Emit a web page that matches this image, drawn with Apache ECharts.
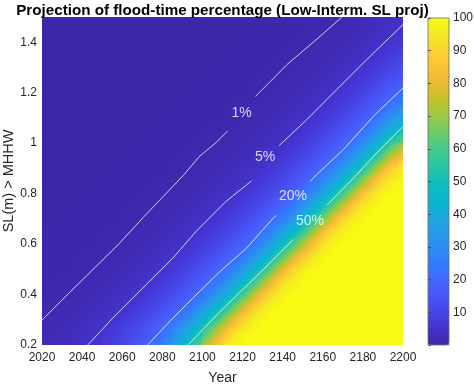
<!DOCTYPE html>
<html>
<head>
<meta charset="utf-8">
<script src="https://cdn.jsdelivr.net/npm/echarts@6/dist/echarts.min.js"></script>
<style>html,body{margin:0;padding:0;background:#fff}#c{width:474px;height:384px}</style>
</head>
<body>
<div id="c"></div>
<script>
// ---- data ----
const yearEdges = [2020,2025,2030,2035,2040,2045,2050,2055,2060,2065,2070,2075,2080,2085,2090,2095,2100,2105,2110,2115,2120,2125,2130,2135,2140,2145,2150,2155,2160,2165,2170,2175,2180,2185,2190,2195,2200];
const levelEdges = [0.2,0.25,0.3,0.35,0.4,0.45,0.5,0.55,0.6,0.65,0.7,0.75,0.8,0.85,0.9,0.95,1.0,1.05,1.1,1.15,1.2,1.25,1.3,1.35,1.4,1.45,1.5];
// flood-time percentage, one row per SL band (bottom to top), one column per 5-year band
const pct = [
[1.8,2.2,2.7,3.4,4.2,5.1,6.7,8.8,11.3,14.1,17.3,21,28,36,44,55,72,86,97,100,100,100,100,100,100,100,100,100,100,100,100,100,100,100,100,100],
[1.3,1.7,2.1,2.6,3.2,4.0,4.8,6.2,8.2,10.6,13.4,16.5,20,26,34,42,51,68,83,95,99,100,100,100,100,100,100,100,100,100,100,100,100,100,100,100],
[1.0,1.2,1.6,2.0,2.4,3.0,3.8,4.6,5.8,7.7,10,12.7,15.7,19,24,32,40,48,64,80,92,99,100,100,100,100,100,100,100,100,100,100,100,100,100,100],
[0.7,0.9,1.2,1.5,1.9,2.3,2.9,3.6,4.4,5.4,7.2,9.4,12,14.9,18,22.5,30,38,46,59,76,89,98,100,100,100,100,100,100,100,100,100,100,100,100,100],
[0.5,0.7,0.9,1.1,1.4,1.8,2.2,2.7,3.4,4.2,5.1,6.7,8.8,11.3,14.1,17.3,21,28,36,44,55,72,86,97,100,100,100,100,100,100,100,100,100,100,100,100],
[0.4,0.5,0.6,0.8,1.0,1.3,1.7,2.1,2.6,3.2,4.0,4.8,6.2,8.2,10.6,13.4,16.5,20,26,34,42,51,68,83,95,99,100,100,100,100,100,100,100,100,100,100],
[0.3,0.4,0.4,0.6,0.8,1.0,1.2,1.6,2.0,2.4,3.0,3.8,4.6,5.8,7.7,10,12.7,15.7,19,24,32,40,48,64,80,92,99,100,100,100,100,100,100,100,100,100],
[0.3,0.3,0.3,0.4,0.6,0.7,0.9,1.2,1.5,1.9,2.3,2.9,3.6,4.4,5.4,7.2,9.4,12,14.9,18,22.5,30,38,46,59,76,89,98,100,100,100,100,100,100,100,100],
[0.2,0.2,0.3,0.3,0.4,0.5,0.7,0.9,1.1,1.4,1.8,2.2,2.7,3.4,4.2,5.1,6.7,8.8,11.3,14.1,17.3,21,28,36,44,55,72,86,97,100,100,100,100,100,100,100],
[0.2,0.2,0.2,0.3,0.3,0.4,0.5,0.6,0.8,1.0,1.3,1.7,2.1,2.6,3.2,4.0,4.8,6.2,8.2,10.6,13.4,16.5,20,26,34,42,51,68,83,95,99,100,100,100,100,100],
[0.1,0.2,0.2,0.2,0.3,0.3,0.4,0.4,0.6,0.8,1.0,1.2,1.6,2.0,2.4,3.0,3.8,4.6,5.8,7.7,10,12.7,15.7,19,24,32,40,48,64,80,92,99,100,100,100,100],
[0.1,0.1,0.2,0.2,0.2,0.3,0.3,0.3,0.4,0.6,0.7,0.9,1.2,1.5,1.9,2.3,2.9,3.6,4.4,5.4,7.2,9.4,12,14.9,18,22.5,30,38,46,59,76,89,98,100,100,100],
[0.1,0.1,0.1,0.2,0.2,0.2,0.2,0.3,0.3,0.4,0.5,0.7,0.9,1.1,1.4,1.8,2.2,2.7,3.4,4.2,5.1,6.7,8.8,11.3,14.1,17.3,21,28,36,44,55,72,86,97,100,100],
[0.1,0.1,0.1,0.1,0.2,0.2,0.2,0.2,0.3,0.3,0.4,0.5,0.6,0.8,1.0,1.3,1.7,2.1,2.6,3.2,4.0,4.8,6.2,8.2,10.6,13.4,16.5,20,26,34,42,51,68,83,95,99],
[0.1,0.1,0.1,0.1,0.1,0.1,0.2,0.2,0.2,0.3,0.3,0.4,0.4,0.6,0.8,1.0,1.2,1.6,2.0,2.4,3.0,3.8,4.6,5.8,7.7,10,12.7,15.7,19,24,32,40,48,64,80,92],
[0,0.1,0.1,0.1,0.1,0.1,0.1,0.2,0.2,0.2,0.3,0.3,0.3,0.4,0.6,0.7,0.9,1.2,1.5,1.9,2.3,2.9,3.6,4.4,5.4,7.2,9.4,12,14.9,18,22.5,30,38,46,59,76],
[0,0,0,0.1,0.1,0.1,0.1,0.1,0.2,0.2,0.2,0.2,0.3,0.3,0.4,0.5,0.7,0.9,1.1,1.4,1.8,2.2,2.7,3.4,4.2,5.1,6.7,8.8,11.3,14.1,17.3,21,28,36,44,55],
[0,0,0,0,0.1,0.1,0.1,0.1,0.1,0.2,0.2,0.2,0.2,0.3,0.3,0.4,0.5,0.6,0.8,1.0,1.3,1.7,2.1,2.6,3.2,4.0,4.8,6.2,8.2,10.6,13.4,16.5,20,26,34,42],
[0,0,0,0,0,0.1,0.1,0.1,0.1,0.1,0.1,0.2,0.2,0.2,0.3,0.3,0.4,0.4,0.6,0.8,1.0,1.2,1.6,2.0,2.4,3.0,3.8,4.6,5.8,7.7,10,12.7,15.7,19,24,32],
[0,0,0,0,0,0,0.1,0.1,0.1,0.1,0.1,0.1,0.2,0.2,0.2,0.3,0.3,0.3,0.4,0.6,0.7,0.9,1.2,1.5,1.9,2.3,2.9,3.6,4.4,5.4,7.2,9.4,12,14.9,18,22.5],
[0,0,0,0,0,0,0,0,0.1,0.1,0.1,0.1,0.1,0.2,0.2,0.2,0.2,0.3,0.3,0.4,0.5,0.7,0.9,1.1,1.4,1.8,2.2,2.7,3.4,4.2,5.1,6.7,8.8,11.3,14.1,17.3],
[0,0,0,0,0,0,0,0,0,0.1,0.1,0.1,0.1,0.1,0.2,0.2,0.2,0.2,0.3,0.3,0.4,0.5,0.6,0.8,1.0,1.3,1.7,2.1,2.6,3.2,4.0,4.8,6.2,8.2,10.6,13.4],
[0,0,0,0,0,0,0,0,0,0,0.1,0.1,0.1,0.1,0.1,0.1,0.2,0.2,0.2,0.3,0.3,0.4,0.4,0.6,0.8,1.0,1.2,1.6,2.0,2.4,3.0,3.8,4.6,5.8,7.7,10],
[0,0,0,0,0,0,0,0,0,0,0,0.1,0.1,0.1,0.1,0.1,0.1,0.2,0.2,0.2,0.3,0.3,0.3,0.4,0.6,0.7,0.9,1.2,1.5,1.9,2.3,2.9,3.6,4.4,5.4,7.2],
[0,0,0,0,0,0,0,0,0,0,0,0,0,0.1,0.1,0.1,0.1,0.1,0.2,0.2,0.2,0.2,0.3,0.3,0.4,0.5,0.7,0.9,1.1,1.4,1.8,2.2,2.7,3.4,4.2,5.1],
[0,0,0,0,0,0,0,0,0,0,0,0,0,0,0.1,0.1,0.1,0.1,0.1,0.2,0.2,0.2,0.2,0.3,0.3,0.4,0.5,0.6,0.8,1.0,1.3,1.7,2.1,2.6,3.2,4.0]
];
// contour lines [year, SL]; null = gap for the label
const contour1 = [[2020,0.299],[2033.5,0.406],[2057.9,0.597],[2070.3,0.704],[2090.8,0.875],[2098.3,0.946],[2106.7,1.002],[2111.7,1.041],[2112.6,1.048],null,[2126.4,1.185],[2142.1,1.311],[2157,1.412],[2169.6,1.5]];
const contour5 = [[2042.8,0.2],[2055.2,0.306],[2071.8,0.438],[2085.2,0.544],[2096.8,0.65],[2111.7,0.769],[2124.4,0.85],null,[2138.2,0.99],[2152,1.093],[2166.9,1.212],[2181.9,1.331],[2200,1.47]];
const contour20 = [[2072.7,0.2],[2083.5,0.292],[2095.1,0.385],[2108.7,0.491],[2122,0.584],[2135.3,0.703],[2136.8,0.714],null,[2153.6,0.848],[2156.9,0.875],[2170.2,0.974],[2185.2,1.106],[2200,1.219]];
const contour50 = [[2092.8,0.2],[2108.7,0.332],[2130,0.496],[2145.2,0.618],null,[2162.2,0.755],[2176.9,0.875],[2186.9,0.961],[2200,1.066]];
const labelTexts = ['1%','5%','20%','50%'];
const labelYears = [2119.5,2131.2,2145.1,2153.6];
const labelLevels = [1.12,0.946,0.791,0.692];
const xTicks = [2020,2040,2060,2080,2100,2120,2140,2160,2180,2200];
const yTicks = [0.2,0.4,0.6,0.8,1.0,1.2,1.4];
const cbTicks = [10,20,30,40,50,60,70,80,90,100];

// ---- build ----
const FONT = '"Liberation Sans", Arial, Helvetica, sans-serif';
const parula = ['#3E26A8','#4537D5','#484DF0','#4563FD','#327CFC','#2B91EF','#20A5E3','#08B5D0','#12BEB9','#31C69F','#57CC7A','#8FCB4E','#C5C22A','#F0BA36','#FEC934','#F5E327','#F9FB15'];
const parulaRGB = parula.map(h => [parseInt(h.slice(1, 3), 16), parseInt(h.slice(3, 5), 16), parseInt(h.slice(5, 7), 16)]);
function colorOf(v) {
  const t = Math.max(0, Math.min(1, v / 100)) * (parulaRGB.length - 1);
  const i = Math.min(Math.floor(t), parulaRGB.length - 2);
  const f = t - i, a = parulaRGB[i], b = parulaRGB[i + 1];
  return 'rgb(' + [0, 1, 2].map(k => Math.round(a[k] + (b[k] - a[k]) * f)).join(',') + ')';
}
// value at a cell corner = mean of the cells touching it (used for shading only)
function cornerVal(ri, ci) {
  let s = 0, n = 0;
  for (const dr of [-1, 0]) for (const dc of [-1, 0]) {
    const r = ri + dr, c = ci + dc;
    if (r >= 0 && r < pct.length && c >= 0 && c < pct[r].length) { s += pct[r][c]; n++; }
  }
  return s / n;
}

const cells = [];
for (let r = 0; r < pct.length; r++) {
  for (let c = 0; c < pct[r].length; c++) {
    cells.push([yearEdges[c], yearEdges[c + 1], levelEdges[r], levelEdges[r + 1], pct[r][c], r, c]);
  }
}
function splitSegs(arr) {
  const out = [[]];
  arr.forEach(p => { if (p === null) out.push([]); else out[out.length - 1].push(p); });
  return out;
}
const lineSeries = [];
[contour1, contour5, contour20, contour50].forEach(cn => {
  splitSegs(cn).forEach(seg => {
    lineSeries.push({
      type: 'line', data: seg, xAxisIndex: 0, yAxisIndex: 0,
      symbol: 'none', showSymbol: false, silent: true, z: 5, clip: true,
      lineStyle: { color: 'rgba(255,255,255,0.85)', width: 0.9 }
    });
  });
});

const chart = echarts.init(document.getElementById('c'), null, { renderer: 'canvas', width: 474, height: 384 });
chart.setOption({
  animation: false,
  backgroundColor: '#ffffff',
  textStyle: { fontFamily: FONT },
  graphic: [{
    type: 'text', x: 222.5, y: 11, z: 20,
    style: { text: 'Projection of flood-time percentage (Low-Interm. SL proj)',
      align: 'center', verticalAlign: 'middle', fill: '#000', font: 'bold 15.2px ' + FONT }
  }],
  grid: [
    { left: 42, top: 17, width: 361, height: 328, show: false, containLabel: false, outerBoundsMode: 'none' },
    { left: 428, top: 18, width: 21, height: 327, show: true, z: 10, borderColor: '#6a6a6a', borderWidth: 0.8,
      backgroundColor: 'transparent', containLabel: false, outerBoundsMode: 'none' }
  ],
  xAxis: [
    { type: 'value', gridIndex: 0, min: xTicks[0], max: xTicks[xTicks.length - 1], interval: xTicks[1] - xTicks[0],
      axisLine: { show: false }, axisTick: { show: false }, splitLine: { show: false },
      axisLabel: { color: '#262626', fontSize: 12, margin: 7, fontFamily: FONT, formatter: v => String(v) },
      name: 'Year', nameLocation: 'middle', nameGap: 26, nameMoveOverlap: false,
      nameTextStyle: { color: '#262626', fontSize: 14, fontFamily: FONT } },
    { type: 'value', gridIndex: 1, min: 0, max: 1, show: false }
  ],
  yAxis: [
    { type: 'value', gridIndex: 0, min: yTicks[0], max: 1.5, interval: 0.2,
      axisLine: { show: false }, axisTick: { show: false }, splitLine: { show: false },
      axisLabel: { color: '#262626', fontSize: 12, margin: 5, showMaxLabel: false, fontFamily: FONT,
        formatter: v => String(Math.round(v * 10) / 10) },
      name: 'SL(m) > MHHW', nameLocation: 'middle', nameGap: 26, nameMoveOverlap: false,
      nameTextStyle: { color: '#262626', fontSize: 14.5, fontFamily: FONT } },
    { type: 'value', gridIndex: 1, position: 'right', min: 0, max: cbTicks[cbTicks.length - 1], interval: cbTicks[0], z: 11,
      axisLine: { show: false }, splitLine: { show: false },
      axisTick: { show: true, length: 3, inside: false, lineStyle: { color: '#444', width: 0.8 } },
      axisLabel: { color: '#262626', fontSize: 12, margin: 4, fontFamily: FONT,
        formatter: v => (cbTicks.indexOf(v) >= 0 ? String(v) : '') } }
  ],
  visualMap: {
    type: 'continuous', min: 0, max: 100, dimension: 4, seriesIndex: 0,
    orient: 'vertical', left: 428, top: 18, itemWidth: 21, itemHeight: 327,
    calculable: false, padding: 0, text: null, hoverLink: false,
    inRange: { color: parula }
  },
  series: [
    {
      type: 'custom', xAxisIndex: 0, yAxisIndex: 0, data: cells, silent: true, clip: true,
      encode: { x: [0, 1], y: [2, 3] },
      renderItem: function (params, api) {
        const p0 = api.coord([api.value(0), api.value(3)]);
        const p1 = api.coord([api.value(1), api.value(2)]);
        const x0 = Math.round(p0[0]), y0 = Math.round(p0[1]);
        const x1 = Math.round(p1[0]), y1 = Math.round(p1[1]);
        const w = x1 - x0, h = y1 - y0;
        const r = api.value(5), c = api.value(6);
        const vA = cornerVal(r + 1, c), vB = cornerVal(r, c + 1);
        const L = (w + h) / 2;
        const stops = [0, 0.2, 0.4, 0.6, 0.8, 1].map(o => ({ offset: o, color: colorOf(vA + (vB - vA) * o) }));
        return { type: 'rect', shape: { x: x0, y: y0, width: w, height: h },
          style: { fill: { type: 'linear', x: x0, y: y0, x2: x0 + L, y2: y0 + L, global: true, colorStops: stops } } };
      }
    }
  ].concat(lineSeries).concat([{
    type: 'scatter', xAxisIndex: 0, yAxisIndex: 0, silent: true, z: 6,
    symbolSize: 1, itemStyle: { color: 'rgba(0,0,0,0)' },
    data: labelYears.map((yv, i) => ({ value: [yv, labelLevels[i]], name: labelTexts[i] })),
    label: { show: true, position: 'inside', formatter: '{b}', color: '#ffffff', fontSize: 14, fontFamily: FONT }
  }])
});
</script>
</body>
</html>
